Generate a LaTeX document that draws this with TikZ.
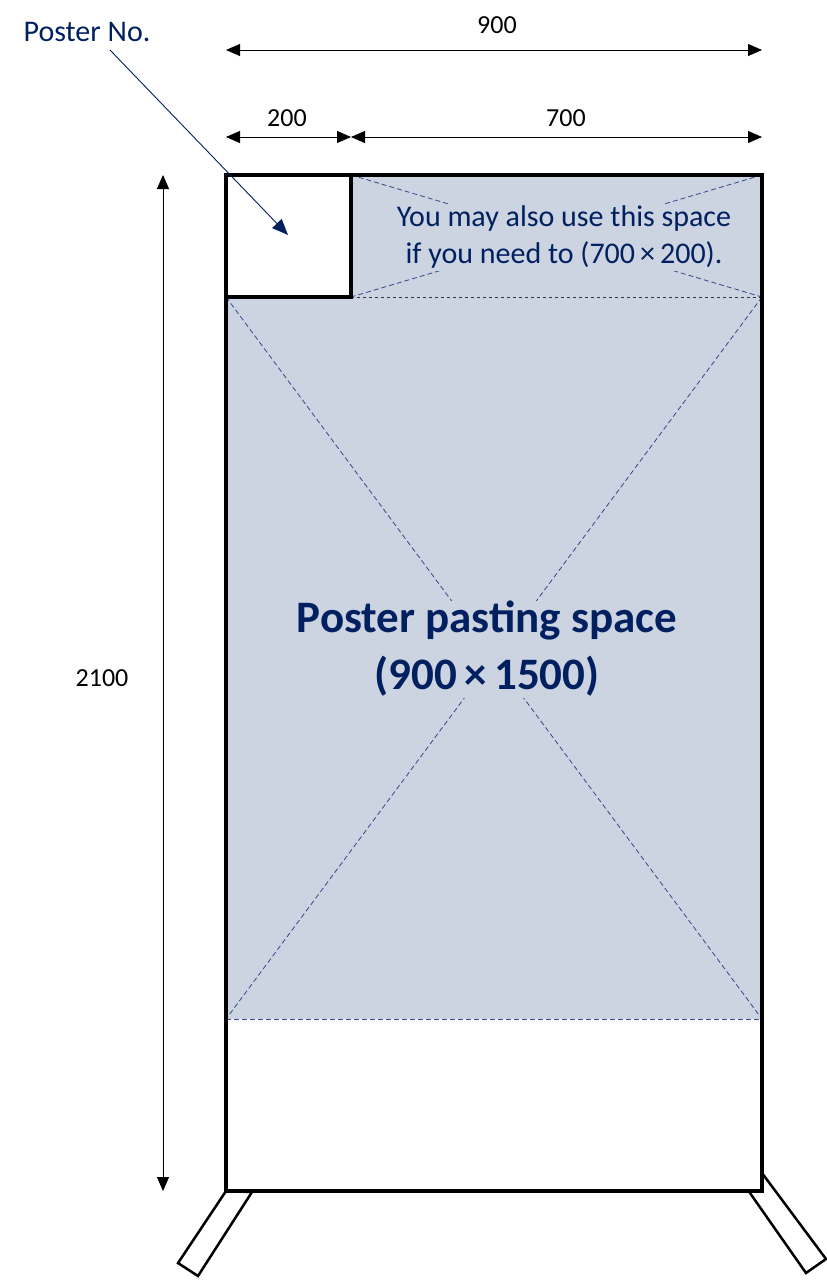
\documentclass[tikz,border=0pt]{standalone}
\usepackage{fontspec}
\setmainfont{Carlito}
\usetikzlibrary{arrows.meta}
\definecolor{navy}{HTML}{002060}
\definecolor{shadecol}{HTML}{CCD3E1}
\definecolor{dashc}{HTML}{34488A}
\begin{document}
\begin{tikzpicture}[x=1pt,y=-1pt,
  dim/.style={line width=0.9pt,{Triangle[length=14pt,width=12pt]}-{Triangle[length=14pt,width=12pt]}},
  lbl/.style={font=\fontsize{26}{30}\selectfont,inner sep=0pt},
  diag/.style={dashc,dash pattern=on 5pt off 3pt,line width=0.8pt},
  frame/.style={line width=3.2pt},
  leg/.style={line width=2.5pt,fill=white}]
\useasboundingbox (0,0) rectangle (827,1280);
% corners
\coordinate (TL) at (226,175);
\coordinate (TR) at (762,175);
\coordinate (BL) at (226,1191);
\coordinate (BR) at (762,1191);
\coordinate (SB) at (351,175);
\coordinate (SBb) at (351,297);
\coordinate (ML) at (226,297);
\coordinate (MR) at (762,297);
\coordinate (LL) at (226,1019);
\coordinate (LR) at (762,1019);
% legs
\draw[leg] (226,1191) -- (252,1192) -- (198,1276) -- (178,1263) -- cycle;
\draw[leg] (762,1173) -- (826,1259) -- (806,1273) -- (750,1193) -- cycle;
% body
\fill[white] (TL) rectangle (BR);
\fill[shadecol] (SB) -- (TR) -- (LR) -- (LL) -- (ML) -- (SBb) -- cycle;
\draw[dashed,line width=0.8pt,black!80] (SBb) -- (MR);
\draw[diag] (LL) -- (LR);
\draw[diag] (SB) -- (MR);
\draw[diag] (TR) -- (SBb);
\draw[diag] (ML) -- (LR);
\draw[diag] (MR) -- (LL);
\node[fill=shadecol,inner xsep=4pt,inner ysep=0pt,minimum height=67pt,align=center,text=navy,
  font=\fontsize{30}{37}\selectfont] (top) at (564,237)
  {You may also use this space\\if you need to (700\,×\,200).};
\node[fill=shadecol,inner xsep=4pt,inner ysep=0pt,minimum height=97pt,align=center,text=navy,
  font=\bfseries\fontsize{45}{57}\selectfont] (main) at (487,649)
  {Poster pasting space\\(900\,×\,1500)};
\draw[frame] (TL) rectangle (BR);
\draw[frame] (TL) rectangle (SBb);
% dimensions
\coordinate (d9a) at (226,50); \coordinate (d9b) at (762,50);
\coordinate (d2a) at (226,137); \coordinate (d2b) at (351,137);
\coordinate (d7b) at (762,137);
\coordinate (dva) at (163,175); \coordinate (dvb) at (163,1191);
\draw[dim] (d9a) -- (d9b);
\draw[dim] (d2a) -- (d2b);
\draw[dim] (d2b) -- (d7b);
\draw[dim] (dva) -- (dvb);
\node[lbl] (l900) at (497,25) {900};
\node[lbl] (l200) at (287,118) {200};
\node[lbl] (l700) at (566,118) {700};
\node[lbl] (l2100) at (102,678) {2100};
% poster no
\node[text=navy,inner sep=0pt,font=\fontsize{30}{34}\selectfont] (pn) at (87,32) {Poster No.};
\coordinate (pns) at (110,50);
\coordinate (pnt) at (288,235);
\draw[navy,line width=0.9pt,-{Triangle[length=16pt,width=13pt]}] (pns) -- (pnt);
\end{tikzpicture}
\end{document}
